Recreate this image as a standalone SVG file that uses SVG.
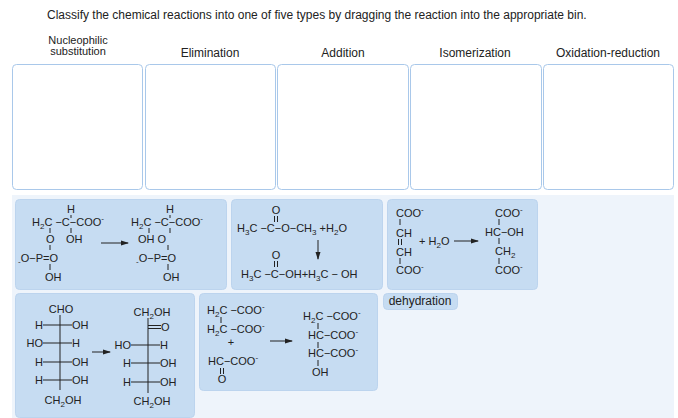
<svg xmlns="http://www.w3.org/2000/svg" width="678" height="418" viewBox="0 0 678 418">
<style>
text{font-family:"Liberation Sans",Arial,sans-serif;fill:#222;font-size:11px}
.hd{font-size:12px}
.c{text-anchor:middle}
.e{text-anchor:end}
.sub{font-size:8px}
.bin{fill:#fff;stroke:#a9c8ea;stroke-width:1}
.card{fill:#c6dcf2;stroke:#bcd4ee;stroke-width:1}
.b{stroke:#222;stroke-width:1;fill:none}
</style>
<defs>
<marker id="ah" markerWidth="8" markerHeight="6" refX="7" refY="3" orient="auto" markerUnits="userSpaceOnUse"><path d="M0,0.5 L8,3 L0,5.5 Z" fill="#222"/></marker>
</defs>
<rect width="678" height="418" fill="#fff"/>
<text class="hd" x="47" y="19">Classify the chemical reactions into one of five types by dragging the reaction into the appropriate bin.</text>
<g id="bins">
<text class="c" x="78" y="44">Nucleophilic</text><text class="c" x="78" y="55">substitution</text>
<text class="c hd" x="210" y="57">Elimination</text>
<text class="c hd" x="343" y="57">Addition</text>
<text class="c hd" x="475" y="57">Isomerization</text>
<text class="c hd" x="608" y="57">Oxidation-reduction</text>
<rect class="bin" x="12.5" y="64.5" width="130" height="125" rx="4"/>
<rect class="bin" x="145.5" y="64.5" width="130" height="125" rx="4"/>
<rect class="bin" x="277.5" y="64.5" width="131" height="125" rx="4"/>
<rect class="bin" x="410.5" y="64.5" width="131" height="125" rx="4"/>
<rect class="bin" x="543.5" y="64.5" width="130" height="125" rx="4"/>
</g>
<rect x="12" y="195" width="662" height="223" fill="#eef4fb"/>
<g id="card1">
<rect class="card" x="15.5" y="199.5" width="211" height="90" rx="4"/>
<text x="67" y="213">H</text>
<text x="32" y="226">H<tspan class="sub" dy="3">2</tspan><tspan dy="-3">C −C−COO</tspan><tspan class="sub" dy="-5">-</tspan></text>
<line class="b" x1="71" y1="215" x2="71" y2="218"/>
<line class="b" x1="71" y1="228" x2="71" y2="233"/>
<line class="b" x1="50" y1="228" x2="50" y2="233"/>
<text x="46" y="243">O</text><text x="66" y="243">OH</text>
<line class="b" x1="50" y1="245" x2="50" y2="250"/>
<text x="18" y="262"><tspan class="sub" dy="2">-</tspan><tspan dy="-2">O−P=O</tspan></text>
<line class="b" x1="50" y1="264" x2="50" y2="270"/>
<text x="45" y="281">OH</text>
<line class="b" x1="101" y1="243" x2="128" y2="243" marker-end="url(#ah)"/>
<text x="166" y="213">H</text>
<text x="131" y="226">H<tspan class="sub" dy="3">2</tspan><tspan dy="-3">C −C−COO</tspan><tspan class="sub" dy="-5">-</tspan></text>
<line class="b" x1="170" y1="215" x2="170" y2="218"/>
<line class="b" x1="149" y1="228" x2="149" y2="233"/>
<line class="b" x1="170" y1="228" x2="170" y2="233"/>
<text x="138" y="243">OH O</text>
<line class="b" x1="168" y1="245" x2="168" y2="250"/>
<text x="136" y="262"><tspan class="sub" dy="2">-</tspan><tspan dy="-2">O−P=O</tspan></text>
<line class="b" x1="168" y1="264" x2="168" y2="270"/>
<text x="163" y="281">OH</text>
</g>
<g id="card2">
<rect class="card" x="231.5" y="199.5" width="151" height="90" rx="4"/>
<text class="c" x="276" y="214">O</text>
<line class="b" x1="274.5" y1="216" x2="274.5" y2="222"/><line class="b" x1="277.5" y1="216" x2="277.5" y2="222"/>
<text x="237" y="232">H<tspan class="sub" dy="3">3</tspan><tspan dy="-3">C −C−O−CH</tspan><tspan class="sub" dy="3">3</tspan><tspan dy="-3"> +H</tspan><tspan class="sub" dy="3">2</tspan><tspan dy="-3">O</tspan></text>
<line class="b" x1="318" y1="240" x2="318" y2="259" marker-end="url(#ah)"/>
<text class="c" x="276" y="259">O</text>
<line class="b" x1="274.5" y1="261" x2="274.5" y2="267"/><line class="b" x1="277.5" y1="261" x2="277.5" y2="267"/>
<text x="241" y="278">H<tspan class="sub" dy="3">3</tspan><tspan dy="-3">C −C−OH+H</tspan><tspan class="sub" dy="3">3</tspan><tspan dy="-3">C − OH</tspan></text>
</g>
<g id="card3">
<rect class="card" x="387.5" y="199.5" width="150" height="90" rx="4"/>
<text x="396" y="217">COO<tspan class="sub" dy="-5">-</tspan></text>
<line class="b" x1="400" y1="219" x2="400" y2="225"/>
<text x="396" y="237">CH</text>
<line class="b" x1="398.5" y1="239" x2="398.5" y2="245"/><line class="b" x1="401.5" y1="239" x2="401.5" y2="245"/>
<text x="396" y="256">CH</text>
<line class="b" x1="400" y1="258" x2="400" y2="264"/>
<text x="396" y="274">COO<tspan class="sub" dy="-5">-</tspan></text>
<text x="419" y="245">+ H<tspan class="sub" dy="3">2</tspan><tspan dy="-3">O</tspan></text>
<line class="b" x1="454" y1="241" x2="478" y2="241" marker-end="url(#ah)"/>
<text x="495" y="217">COO<tspan class="sub" dy="-5">-</tspan></text>
<line class="b" x1="499" y1="219" x2="499" y2="225"/>
<text x="485" y="236">HC−OH</text>
<line class="b" x1="499" y1="238" x2="499" y2="244"/>
<text x="495" y="255">CH<tspan class="sub" dy="3">2</tspan></text>
<line class="b" x1="499" y1="258" x2="499" y2="264"/>
<text x="495" y="274">COO<tspan class="sub" dy="-5">-</tspan></text>
</g>
<g id="card4">
<rect class="card" x="15.5" y="293.5" width="179" height="124" rx="4"/>
<text class="c" x="61" y="313">CHO</text>
<line class="b" x1="60" y1="315" x2="60" y2="390"/>
<line class="b" x1="43" y1="325" x2="72" y2="325"/><text class="e" x="43" y="329">H</text><text x="72" y="329">OH</text>
<line class="b" x1="43" y1="343" x2="72" y2="343"/><text class="e" x="43" y="347">HO</text><text x="72" y="347">H</text>
<line class="b" x1="43" y1="362" x2="72" y2="362"/><text class="e" x="43" y="366">H</text><text x="72" y="366">OH</text>
<line class="b" x1="43" y1="380" x2="72" y2="380"/><text class="e" x="43" y="384">H</text><text x="72" y="384">OH</text>
<text class="c" x="63" y="404">CH<tspan class="sub" dy="3">2</tspan><tspan dy="-3">OH</tspan></text>
<line class="b" x1="92" y1="352" x2="110" y2="352" marker-end="url(#ah)"/>
<text class="c" x="152" y="316">CH<tspan class="sub" dy="3">2</tspan><tspan dy="-3">OH</tspan></text>
<line class="b" x1="148" y1="318" x2="148" y2="393"/>
<line class="b" x1="148" y1="325.5" x2="161" y2="325.5"/><line class="b" x1="148" y1="328.5" x2="161" y2="328.5"/><text x="161" y="331">O</text>
<line class="b" x1="131" y1="345" x2="160" y2="345"/><text class="e" x="131" y="349">HO</text><text x="160" y="349">H</text>
<line class="b" x1="131" y1="363" x2="160" y2="363"/><text class="e" x="131" y="367">H</text><text x="160" y="367">OH</text>
<line class="b" x1="131" y1="382" x2="160" y2="382"/><text class="e" x="131" y="386">H</text><text x="160" y="386">OH</text>
<text class="c" x="152" y="405">CH<tspan class="sub" dy="3">2</tspan><tspan dy="-3">OH</tspan></text>
</g>
<g id="card5">
<rect class="card" x="199.5" y="293.5" width="178" height="97" rx="4"/>
<text x="207" y="314">H<tspan class="sub" dy="3">2</tspan><tspan dy="-3">C −COO</tspan><tspan class="sub" dy="-5">-</tspan></text>
<line class="b" x1="221" y1="317" x2="221" y2="323"/>
<text x="207" y="333">H<tspan class="sub" dy="3">2</tspan><tspan dy="-3">C −COO</tspan><tspan class="sub" dy="-5">-</tspan></text>
<text class="c" x="231" y="346">+</text>
<text x="208" y="365">HC−COO<tspan class="sub" dy="-5">-</tspan></text>
<line class="b" x1="220.5" y1="368" x2="220.5" y2="374"/><line class="b" x1="223.5" y1="368" x2="223.5" y2="374"/>
<text class="c" x="222" y="383">O</text>
<line class="b" x1="270" y1="341" x2="292" y2="341" marker-end="url(#ah)"/>
<text x="303" y="320">H<tspan class="sub" dy="3">2</tspan><tspan dy="-3">C −COO</tspan><tspan class="sub" dy="-5">-</tspan></text>
<line class="b" x1="318" y1="323" x2="318" y2="329"/>
<text x="308" y="339">HC−COO<tspan class="sub" dy="-5">-</tspan></text>
<line class="b" x1="318" y1="342" x2="318" y2="348"/>
<text x="308" y="357">HC−COO<tspan class="sub" dy="-5">-</tspan></text>
<line class="b" x1="318" y1="360" x2="318" y2="366"/>
<text x="312" y="376">OH</text>
</g>
<g id="label">
<rect class="card" x="383.5" y="293.5" width="74" height="16" rx="4"/>
<text class="c hd" x="420" y="305">dehydration</text>
</g>
</svg>
